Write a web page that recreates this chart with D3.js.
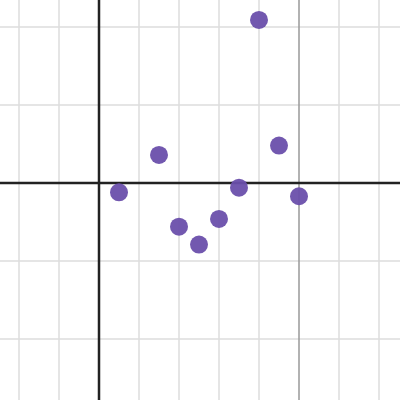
<!DOCTYPE html>
<html>
<head>
<meta charset="UTF-8">
<script src="https://d3js.org/d3.v7.min.js"></script>
<style>body{margin:0;background:#fff;overflow:hidden}</style>
</head>
<body>
<svg width="400" height="400"></svg>
<script>
const xs = [0.5, 1.5, 2, 2.5, 3, 3.5, 4, 4.5, 5];
const ys = [-0.12, 0.36, -0.56, -0.79, -0.46, -0.06, 2.09, 0.48, -0.17];
const xGrid = [-2, -1, 1, 2, 3, 4, 6, 7];
const yGrid = [-2, -1, 1, 2];

const svg = d3.select("svg");
const x = d3.scaleLinear().domain([-2.475, 7.525]).range([0, 400]);
const y = d3.scaleLinear().domain([-2.782, 2.346]).range([400, 0]);

svg.selectAll(".vg").data(xGrid).join("line")
  .attr("x1", d => x(d)).attr("x2", d => x(d)).attr("y1", 0).attr("y2", 400)
  .attr("stroke", "#ddd").attr("stroke-width", 1.5);
svg.selectAll(".hg").data(yGrid).join("line")
  .attr("y1", d => y(d)).attr("y2", d => y(d)).attr("x1", 0).attr("x2", 400)
  .attr("stroke", "#ddd").attr("stroke-width", 1.5);
// vertical line x = 5
svg.append("line").attr("x1", x(5)).attr("x2", x(5)).attr("y1", 0).attr("y2", 400)
  .attr("stroke", "#999").attr("stroke-width", 1.5);
// axes
svg.append("line").attr("x1", x(0)).attr("x2", x(0)).attr("y1", 0).attr("y2", 400)
  .attr("stroke", "#222").attr("stroke-width", 2.5);
svg.append("line").attr("y1", y(0)).attr("y2", y(0)).attr("x1", 0).attr("x2", 400)
  .attr("stroke", "#222").attr("stroke-width", 2.5);

svg.selectAll("circle").data(xs).join("circle")
  .attr("cx", d => x(d)).attr("cy", (d, i) => y(ys[i])).attr("r", 9)
  .attr("fill", "#6a4fab").attr("fill-opacity", 0.95);
</script>
</body>
</html>
